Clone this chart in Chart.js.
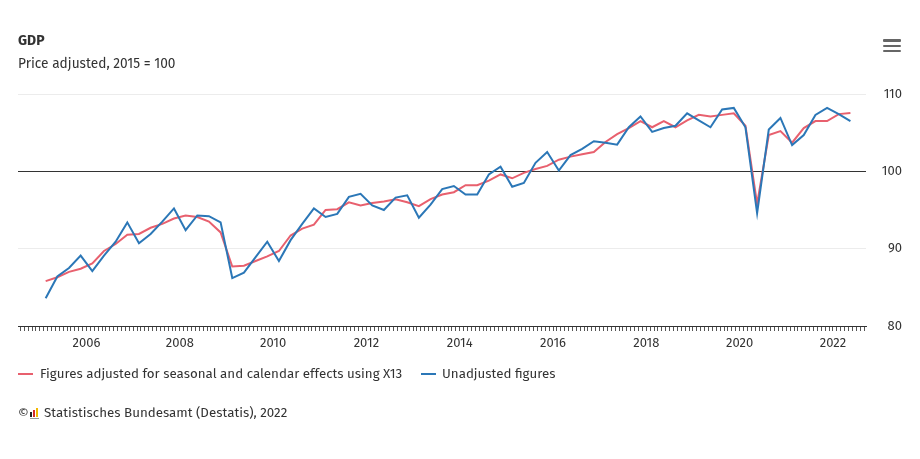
<!DOCTYPE html>
<html><head><meta charset="utf-8">
<script src="https://cdn.jsdelivr.net/npm/chart.js@4"></script>
<style>
html,body{margin:0;padding:0;background:#fff;}
#wrap{position:relative;width:920px;height:459px;overflow:hidden;background:#fff;}
#c{position:absolute;left:0;top:0;}
.t{position:absolute;white-space:nowrap;color:#333;}
#title{left:18px;top:34px;font:bold 14px/14px 'Fira Sans',sans-serif;}
#sub{left:18px;top:57px;font:13.7px/13.7px 'Fira Sans',sans-serif;}
.lg{font:13.33px/13.33px 'Fira Sans',sans-serif;top:367.5px;}
.mk{position:absolute;height:2px;top:373px;}
#cr{left:18px;top:406.8px;font:13.33px/13.33px 'Fira Sans',sans-serif;}
#crt{left:44px;top:406.8px;font:13.33px/13.33px 'Fira Sans',sans-serif;}
.bar{position:absolute;}
.hb{position:absolute;left:883px;width:18px;height:2.6px;background:#666;border-radius:1px;}
</style></head>
<body>
<div id="wrap">
<canvas id="c" width="920" height="459"></canvas>
<div class="t" id="title">GDP</div>
<div class="t" id="sub">Price adjusted, 2015 = 100</div>
<div class="hb" style="top:39.4px"></div>
<div class="hb" style="top:44.6px"></div>
<div class="hb" style="top:49.8px"></div>
<div class="mk" id="mk0" style="left:18px;width:15px;"></div>
<div class="t lg" id="lg0" style="left:40px;"></div>
<div class="mk" id="mk1" style="left:421px;width:15px;"></div>
<div class="t lg" id="lg1" style="left:442px;"></div>
<div class="t" id="cr">©</div>
<div class="t" id="crt">Statistisches Bundesamt (Destatis), 2022</div>
<div class="bar" style="left:30px;top:412px;width:2px;height:5px;background:#222"></div>
<div class="bar" style="left:33px;top:410px;width:2px;height:7px;background:#d42a2a"></div>
<div class="bar" style="left:36px;top:408px;width:2px;height:9px;background:#f2b800"></div>
<div class="bar" style="left:29.5px;top:417.5px;width:9px;height:1.5px;background:#999"></div>
</div>
<script>
// ---- data ----
const quarters = [
 "2005 Q1","2005 Q2","2005 Q3","2005 Q4",
 "2006 Q1","2006 Q2","2006 Q3","2006 Q4",
 "2007 Q1","2007 Q2","2007 Q3","2007 Q4",
 "2008 Q1","2008 Q2","2008 Q3","2008 Q4",
 "2009 Q1","2009 Q2","2009 Q3","2009 Q4",
 "2010 Q1","2010 Q2","2010 Q3","2010 Q4",
 "2011 Q1","2011 Q2","2011 Q3","2011 Q4",
 "2012 Q1","2012 Q2","2012 Q3","2012 Q4",
 "2013 Q1","2013 Q2","2013 Q3","2013 Q4",
 "2014 Q1","2014 Q2","2014 Q3","2014 Q4",
 "2015 Q1","2015 Q2","2015 Q3","2015 Q4",
 "2016 Q1","2016 Q2","2016 Q3","2016 Q4",
 "2017 Q1","2017 Q2","2017 Q3","2017 Q4",
 "2018 Q1","2018 Q2","2018 Q3","2018 Q4",
 "2019 Q1","2019 Q2","2019 Q3","2019 Q4",
 "2020 Q1","2020 Q2","2020 Q3","2020 Q4",
 "2021 Q1","2021 Q2","2021 Q3","2021 Q4",
 "2022 Q1","2022 Q2"];
const adjusted = [
 85.8, 86.3, 87.0, 87.4,
 88.1, 89.7, 90.6, 91.8,
 91.9, 92.7, 93.2, 93.9,
 94.3, 94.1, 93.5, 92.1,
 87.7, 87.8, 88.4, 89.0,
 89.7, 91.7, 92.6, 93.1,
 95.0, 95.1, 96.0, 95.6,
 95.9, 96.1, 96.4, 96.0,
 95.5, 96.4, 97.0, 97.3,
 98.2, 98.2, 98.8, 99.6,
 99.1, 99.8, 100.3, 100.7,
 101.5, 101.9, 102.2, 102.5,
 103.8, 104.8, 105.6, 106.5,
 105.7, 106.5, 105.7, 106.6,
 107.3, 107.1, 107.3, 107.5,
 105.9, 95.8, 104.7, 105.2,
 103.7, 105.6, 106.5, 106.5,
 107.4, 107.55];
const unadjusted = [
 83.6, 86.4, 87.5, 89.1,
 87.1, 89.1, 90.9, 93.4,
 90.7, 91.9, 93.5, 95.2,
 92.4, 94.3, 94.2, 93.4,
 86.2, 86.9, 88.9, 90.9,
 88.4, 91.1, 93.2, 95.2,
 94.1, 94.5, 96.7, 97.1,
 95.6, 95.0, 96.6, 96.9,
 94.0, 95.7, 97.7, 98.1,
 97.0, 97.0, 99.6, 100.6,
 98.0, 98.5, 101.1, 102.5,
 100.1, 102.1, 102.9, 103.9,
 103.7, 103.45, 105.7, 107.1,
 105.1, 105.6, 105.9, 107.5,
 106.6, 105.7, 108.0, 108.2,
 105.7, 94.6, 105.4, 106.9,
 103.4, 104.7, 107.3, 108.2,
 107.4, 106.5];
const seriesNames = ["Figures adjusted for seasonal and calendar effects using X13", "Unadjusted figures"];
const seriesColors = ["#e8606e", "#2b77b7"];
const xLabelYears = [2006, 2008, 2010, 2012, 2014, 2016, 2018, 2020, 2022];
const yTicks = [80, 90, 100, 110];

// quarter label -> decimal year at the middle of the quarter
function qPos(label){ const [y,q]=label.split(" Q"); return +y + (+q - 0.5)/4; }
const toPts = arr => arr.map((v,i)=>({x:qPos(quarters[i]), y:v}));

document.getElementById('lg0').textContent = seriesNames[0];
document.getElementById('lg1').textContent = seriesNames[1];
document.getElementById('mk0').style.background = seriesColors[0];
document.getElementById('mk1').style.background = seriesColors[1];

const axisFont = {family:"'Fira Sans', sans-serif", size:13};
new Chart(document.getElementById('c'), {
  type:'line',
  data:{datasets:[
    {label:seriesNames[0], data:toPts(adjusted), borderColor:seriesColors[0], borderWidth:2, pointRadius:0, tension:0, order:1, fill:false},
    {label:seriesNames[1], data:toPts(unadjusted), borderColor:seriesColors[1], borderWidth:2, pointRadius:0, tension:0, order:0, fill:false}
  ]},
  options:{
    responsive:false, animation:false, devicePixelRatio:1,
    layout:{padding:{left:18, right:18, top:94, bottom:107}},
    plugins:{legend:{display:false}, tooltip:{enabled:false}, title:{display:false}},
    scales:{
      x:{type:'linear', min:2004.532, max:2022.709,
        afterBuildTicks:s=>{
          const t=[]; for(let m=Math.ceil(s.min*12); m/12<=s.max; m++) t.push({value:m/12});
          s.ticks=t;
        },
        afterFit:s=>{s.height=26;},
        grid:{drawOnChartArea:false, drawTicks:true, tickLength:5, color:'#555', lineWidth:1},
        border:{display:true, color:'#333', width:1},
        ticks:{autoSkip:false, maxRotation:0, minRotation:0, padding:5, font:axisFont, color:'#333',
          callback:v=>{const m=Math.round(v*12); const yr=Math.floor(m/12);
            return (m%12===0 && xLabelYears.includes(yr)) ? String(yr) : '';}}
      },
      y:{position:'right', min:80, max:110,
        afterBuildTicks:s=>{s.ticks=yTicks.map(v=>({value:v}));},
        afterFit:s=>{s.width=36;},
        grid:{drawTicks:false, color:c=>(c.tick && c.tick.value===100)?'#333':'#ececec', lineWidth:1},
        border:{display:false},
        ticks:{crossAlign:'far', padding:15, font:axisFont, color:'#333'}
      }
    }
  }
});
</script>
</body></html>
